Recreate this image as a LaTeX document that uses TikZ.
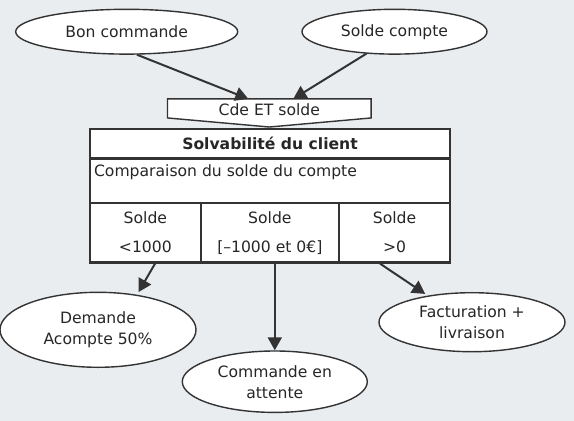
\documentclass[tikz,border=0pt]{standalone}
\usepackage{fontspec}
\setmainfont{DejaVu Sans}
\usetikzlibrary{shapes.geometric,arrows.meta,calc}
\definecolor{bg}{HTML}{E9EDF0}
\definecolor{ln}{HTML}{333333}
\definecolor{tx}{HTML}{262626}
\begin{document}
\begin{tikzpicture}[x=1pt,y=-1pt,
  every node/.style={font=\fontsize{15.6}{21}\selectfont, text=tx},
  oval/.style={ellipse, draw=ln, line width=1.4pt, fill=white, inner sep=0pt, align=center},
  cellbox/.style={rectangle, draw=ln, line width=2.2pt, fill=white, inner sep=0pt},
  twoline/.style={font=\fontsize{15.6}{29}\selectfont, align=center},
  arr/.style={draw=ln, line width=2pt, -{Triangle[length=13pt,width=14pt]}}]
\fill[bg] (0,0) rectangle (574,421);
\useasboundingbox (0,0) rectangle (574,421);

% top ellipses
\node[oval, minimum width=222pt, minimum height=44.8pt] (bon) at (126.7,31.7) {Bon commande};
\node[oval, minimum width=185pt, minimum height=44.8pt] (sol) at (394.5,31.7) {Solde compte};

% Cde ET solde shape
\node[inner sep=0pt, minimum width=203.3pt, minimum height=18.7pt] (cdeb) at (269.3,108.4) {};
\coordinate (cdetip) at (269.3,127);
\draw[ln, line width=1.4pt, fill=white, line join=miter]
  (cdeb.north west) -- (cdeb.north east) -- (cdeb.south east) -- (cdetip) -- (cdeb.south west) -- cycle;
\node (cde) at ($(cdeb.center)+(0,1)$) {Cde ET solde};

% Solvabilite box
\node[cellbox, minimum width=360pt, minimum height=29.5pt, font=\fontsize{15.6}{21}\selectfont\bfseries] (title) at (270,143.75) {Solvabilité du client};
\node[cellbox, minimum width=360pt, minimum height=44.2pt] (comp) at (270,180.6) {};
\node[anchor=base west, inner sep=0pt] (comptxt) at ($(comp.north west)+(5,19)$) {Comparaison du solde du compte};
\node[cellbox, twoline, minimum width=110.7pt, minimum height=59.8pt] (c1) at (145.35,232.6) {Solde\\<1000};
\node[cellbox, twoline, minimum width=138.3pt, minimum height=59.8pt] (c2) at (269.85,232.6) {Solde\\{[}–1000 et 0€{]}};
\node[cellbox, twoline, minimum width=111pt, minimum height=59.8pt] (c3) at (394.5,232.6) {Solde\\>0};

% bottom ellipses
\node[oval, minimum width=196pt, minimum height=75pt] (dem) at (98,329.8) {Demande\\Acompte 50\%};
\node[oval, minimum width=185pt, minimum height=61.4pt] (att) at (274.8,381.7) {Commande en\\attente};
\node[oval, minimum width=186pt, minimum height=59pt] (fac) at (472,322.2) {Facturation +\\livraison};

% connectors
\draw[arr] (bon.-66) -- ($(cdeb.north)+(-21,0)$);
\draw[arr] (sol.-142) -- ($(cdeb.north)+(24,0)$);
\draw[arr, shorten >=3pt] ($(c1.south)+(9.7,0)$) -- (dem.42);
\draw[arr] (att.north |- c2.south) -- (att.north);
\draw[arr, shorten >=3pt] ($(c3.south)+(-14.5,0)$) -- (fac.149);
\end{tikzpicture}
\end{document}
